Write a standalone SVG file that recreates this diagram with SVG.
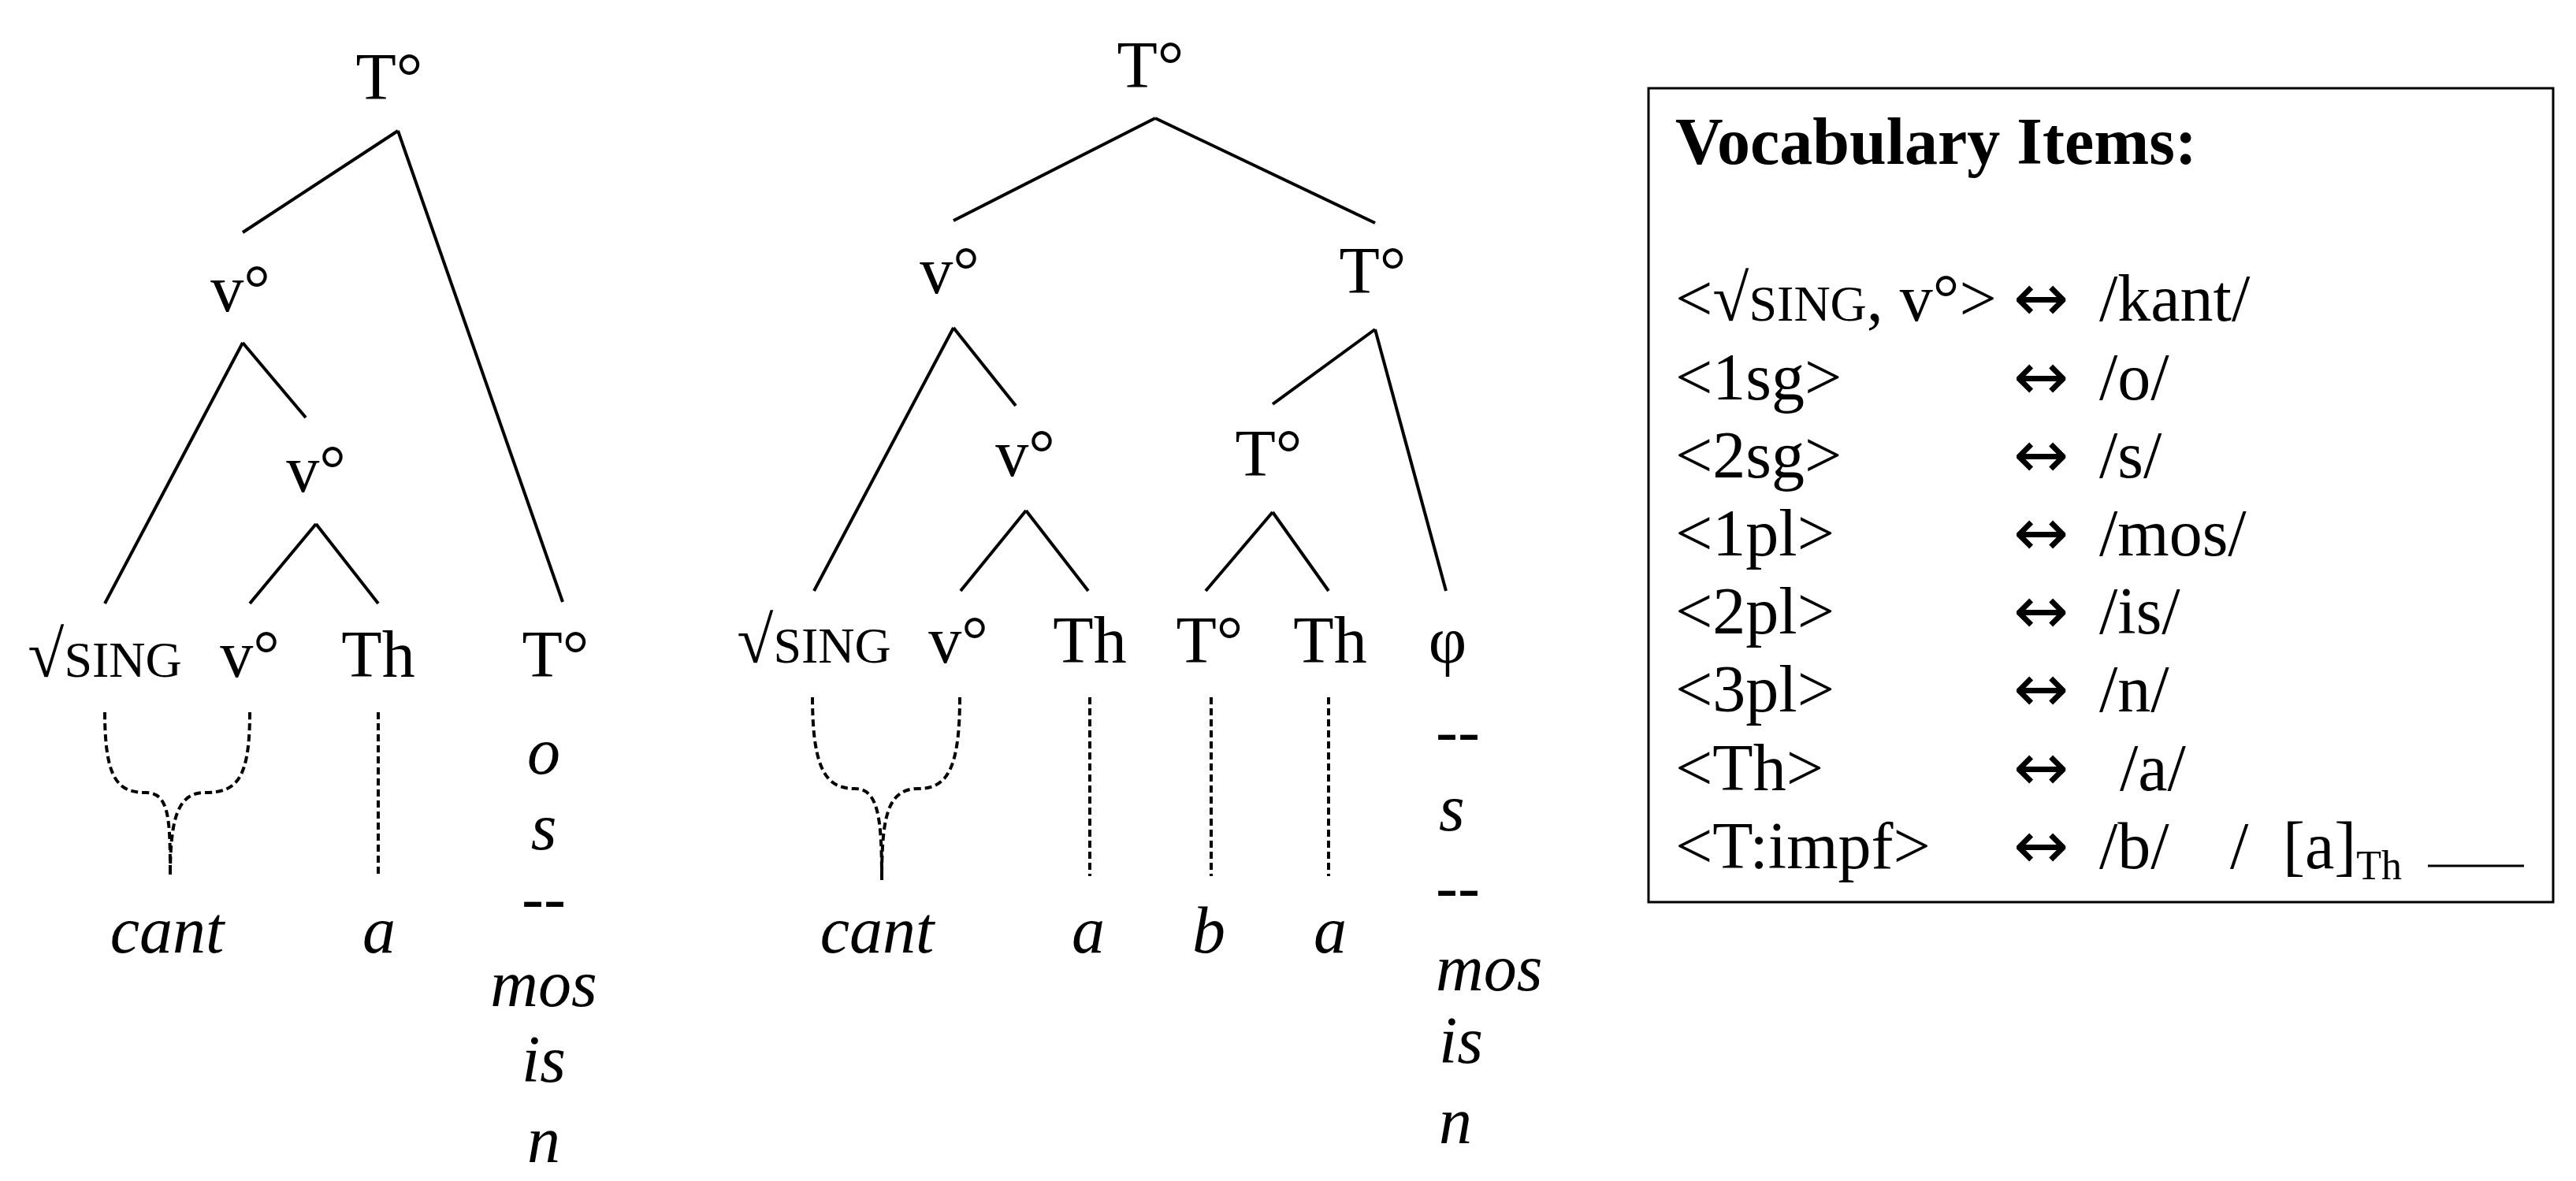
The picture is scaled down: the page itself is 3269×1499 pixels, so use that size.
<svg xmlns="http://www.w3.org/2000/svg" width="3269" height="1499" viewBox="0 0 3269 1499">
<style>
text{font-family:"Liberation Serif","DejaVu Serif",serif;font-size:84px;fill:#000}
.c{text-anchor:middle}
.i{font-style:italic}
.sc{font-size:64px}
.e{stroke:#000;stroke-width:4;fill:none}
.d{stroke:#000;stroke-width:4;fill:none;stroke-dasharray:9 5}
</style>
<rect width="3269" height="1499" fill="#fff"/>
<g id="edges">
<path class="e" d="M505,166L308,295M505,166L714,764M308,435L133,766M308,435L388,530M401,665L317,766M401,665L480,766"/>
<path class="d" d="M133,904C133,990 150,1006 185,1006C215,1006 216,1040 216,1112M317,904C317,990 300,1006 260,1006C225,1006 216,1040 216,1112M480,904V1112"/>
<path class="e" d="M1466,150L1210,280M1466,150L1745,283M1210,416L1033,750M1210,416L1289,515M1302,648L1219,750M1302,648L1381,750M1745,418L1615,513M1745,418L1835,750M1615,650L1530,750M1615,650L1686,750"/>
<path class="d" d="M1031,885C1031,980 1050,1001 1085,1001C1115,1001 1119,1040 1119,1117M1218,885C1218,980 1200,1001 1165,1001C1125,1001 1119,1040 1119,1117M1383,885V1112M1537,885V1112M1686,885V1112"/>
</g>
<g id="tree1">
<text class="c" x="494" y="126">T°</text>
<text class="c" x="305" y="395">v°</text>
<text class="c" x="401" y="624">v°</text>
<text class="c" x="133" y="859">√<tspan class="sc">SING</tspan></text>
<text class="c" x="317" y="859">v°</text>
<text class="c" x="480" y="859">Th</text>
<text class="c" x="705" y="859">T°</text>
<text class="c i" x="212" y="1209">cant</text>
<text class="c i" x="481" y="1209">a</text>
<g class="c i"><text class="c i" x="690" y="982">o</text><text class="c i" x="690" y="1078">s</text><text class="c i" x="690" y="1168">--</text><text class="c i" x="690" y="1277">mos</text><text class="c i" x="690" y="1373">is</text><text class="c i" x="690" y="1475">n</text></g>
</g>
<g id="tree2">
<text class="c" x="1460" y="111">T°</text>
<text class="c" x="1205" y="372">v°</text>
<text class="c" x="1742" y="372">T°</text>
<text class="c" x="1301" y="604">v°</text>
<text class="c" x="1610" y="604">T°</text>
<text class="c" x="1033" y="841">√<tspan class="sc">SING</tspan></text>
<text class="c" x="1216" y="841">v°</text>
<text class="c" x="1383" y="841">Th</text>
<text class="c" x="1535" y="841">T°</text>
<text class="c" x="1688" y="841">Th</text>
<text class="c" x="1837" y="841">φ</text>
<text class="c i" x="1113" y="1209">cant</text>
<text class="c i" x="1381" y="1209">a</text>
<text class="c i" x="1534" y="1209">b</text>
<text class="c i" x="1688" y="1209">a</text>
<text class="i" x="1822" y="956">--</text><text class="i" x="1826" y="1054">s</text><text class="i" x="1822" y="1154">--</text><text class="i" x="1822" y="1257">mos</text><text class="i" x="1826" y="1349">is</text><text class="i" x="1826" y="1451">n</text>
</g>
<g id="vocab">
<rect x="2092" y="112" width="1148" height="1033" fill="none" stroke="#000" stroke-width="3"/>
<text x="2126" y="208" font-weight="bold" font-size="76">Vocabulary Items:</text>
<text x="2126" y="407">&lt;√<tspan class="sc">SING</tspan>, v°&gt;</text>
<text x="2126" y="507">&lt;1sg&gt;</text>
<text x="2126" y="606">&lt;2sg&gt;</text>
<text x="2126" y="705">&lt;1pl&gt;</text>
<text x="2126" y="804">&lt;2pl&gt;</text>
<text x="2126" y="903">&lt;3pl&gt;</text>
<text x="2126" y="1003">&lt;Th&gt;</text>
<text x="2126" y="1102">&lt;T:impf&gt;</text>
<g font-family="DejaVu Sans">
<text x="2555" y="407" style="font-family:'DejaVu Sans',sans-serif" font-size="70">↔</text>
<text x="2555" y="507" style="font-family:'DejaVu Sans',sans-serif" font-size="70">↔</text>
<text x="2555" y="606" style="font-family:'DejaVu Sans',sans-serif" font-size="70">↔</text>
<text x="2555" y="705" style="font-family:'DejaVu Sans',sans-serif" font-size="70">↔</text>
<text x="2555" y="804" style="font-family:'DejaVu Sans',sans-serif" font-size="70">↔</text>
<text x="2555" y="903" style="font-family:'DejaVu Sans',sans-serif" font-size="70">↔</text>
<text x="2555" y="1003" style="font-family:'DejaVu Sans',sans-serif" font-size="70">↔</text>
<text x="2555" y="1102" style="font-family:'DejaVu Sans',sans-serif" font-size="70">↔</text>
</g>
<text x="2664" y="407">/kant/</text>
<text x="2664" y="507">/o/</text>
<text x="2664" y="606">/s/</text>
<text x="2664" y="705">/mos/</text>
<text x="2664" y="804">/is/</text>
<text x="2664" y="903">/n/</text>
<text x="2690" y="1003">/a/</text>
<text x="2664" y="1102">/b/</text>
<text x="2830" y="1102">/</text>
<text x="2897" y="1102">[a]<tspan font-size="52" dy="14">Th</tspan></text>
<line x1="3081" y1="1099" x2="3203" y2="1099" stroke="#000" stroke-width="3"/>
</g>
</svg>
